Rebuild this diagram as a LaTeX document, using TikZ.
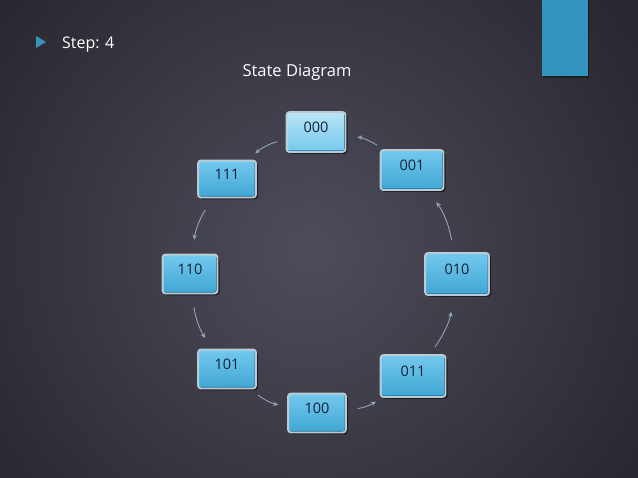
\documentclass[tikz,border=0pt]{standalone}
\usepackage{fontspec}
\setmainfont{Open Sans}
\usetikzlibrary{arrows.meta,shadows}
\definecolor{bgdark}{HTML}{2A2730}
\definecolor{bglight}{HTML}{4D4D5A}
\definecolor{accent}{HTML}{3494C0}
\definecolor{boxtop}{HTML}{74C9EE}
\definecolor{boxbot}{HTML}{3FA6D3}
\definecolor{boxedge}{HTML}{1F6F96}
\definecolor{rim}{HTML}{BCCAD3}
\definecolor{arrowc}{HTML}{93A4B4}
\definecolor{digit}{HTML}{13203A}
\begin{document}
\begin{tikzpicture}[x=1pt,y=1pt,
  state/.style={rectangle, rounded corners=3pt, draw=rim, line width=1.8pt,
    top color=boxtop, bottom color=boxbot, text=digit,
    font=\fontsize{14.5}{16}\selectfont, text height=10pt, text depth=8pt, inner sep=0pt,
    drop shadow={shadow xshift=2pt, shadow yshift=-2pt, fill=black, opacity=0.5},
    path picture={
      \draw[boxedge, line width=3pt]
        (path picture bounding box.south west) -- (path picture bounding box.south east)
        -- (path picture bounding box.north east);
      \draw[white, opacity=0.45, line width=2pt]
        (path picture bounding box.south west) -- (path picture bounding box.north west)
        -- (path picture bounding box.north east);
    }},
  flow/.style={draw=arrowc, line width=0.9pt, -{Stealth[length=5pt,width=4.5pt]}},
  slidetext/.style={text=white, inner sep=0pt}
]
\useasboundingbox (0,0) rectangle (638,-478);
\fill[bgdark] (0,0) rectangle (638,-478);
\begin{scope}
  \clip (0,0) rectangle (638,-478);
  \shade[inner color=bglight, outer color=bgdark] (310,-250) circle (390);
\end{scope}

% accent bar and bullet
\fill[black, opacity=0.35] (543,0) rectangle (589,-78);
\fill[accent] (542,0) rectangle (588,-76);
\fill[accent] (36,-36) -- (46,-42) -- (36,-48) -- cycle;

\node[slidetext, anchor=base west, font=\fontsize{16}{20}\selectfont] (step) at (62,-49) {Step: 4};
\node[slidetext, anchor=base, font=\fontsize{16.5}{19}\selectfont] (title) at (297,-77) {State Diagram};

% states
\node[state, minimum width=59pt, minimum height=40pt, top color=boxtop!50!white, bottom color=boxtop] (n000) at (316,-132) {000};
\node[state, minimum width=63pt, minimum height=40pt] (n001) at (412,-170) {001};
\node[state, minimum width=58pt, minimum height=37pt] (n111) at (227,-179) {111};
\node[state, minimum width=55pt, minimum height=39pt] (n110) at (190,-274) {110};
\node[state, minimum width=64pt, minimum height=42pt] (n010) at (457,-274) {010};
\node[state, minimum width=58pt, minimum height=39pt] (n101) at (227,-369) {101};
\node[state, minimum width=65pt, minimum height=42pt] (n011) at (413,-376) {011};
\node[state, minimum width=58pt, minimum height=39pt] (n100) at (317,-413) {100};

% transitions
\draw[flow, shorten <=9pt, shorten >=9pt] (n000) to[bend right=14] (n111);
\draw[flow, shorten <=14pt, shorten >=14pt] (n111) to[bend right=14] (n110);
\draw[flow, shorten <=13pt, shorten >=13pt] (n110) to[bend right=14] (n101);
\draw[flow, shorten <=9pt, shorten >=9pt] (n101) to[bend right=14] (n100);
\draw[flow, shorten <=11pt, shorten >=7pt] (n100) to[bend right=14] (n011);
\draw[flow, shorten <=9pt, shorten >=16pt] (n011) to[bend right=14] (n010);
\draw[flow, shorten <=12pt, shorten >=14pt] (n010) to[bend right=14] (n001);
\draw[flow, shorten <=7pt, shorten >=11pt] (n001) to[bend right=14] (n000);
\end{tikzpicture}
\end{document}
